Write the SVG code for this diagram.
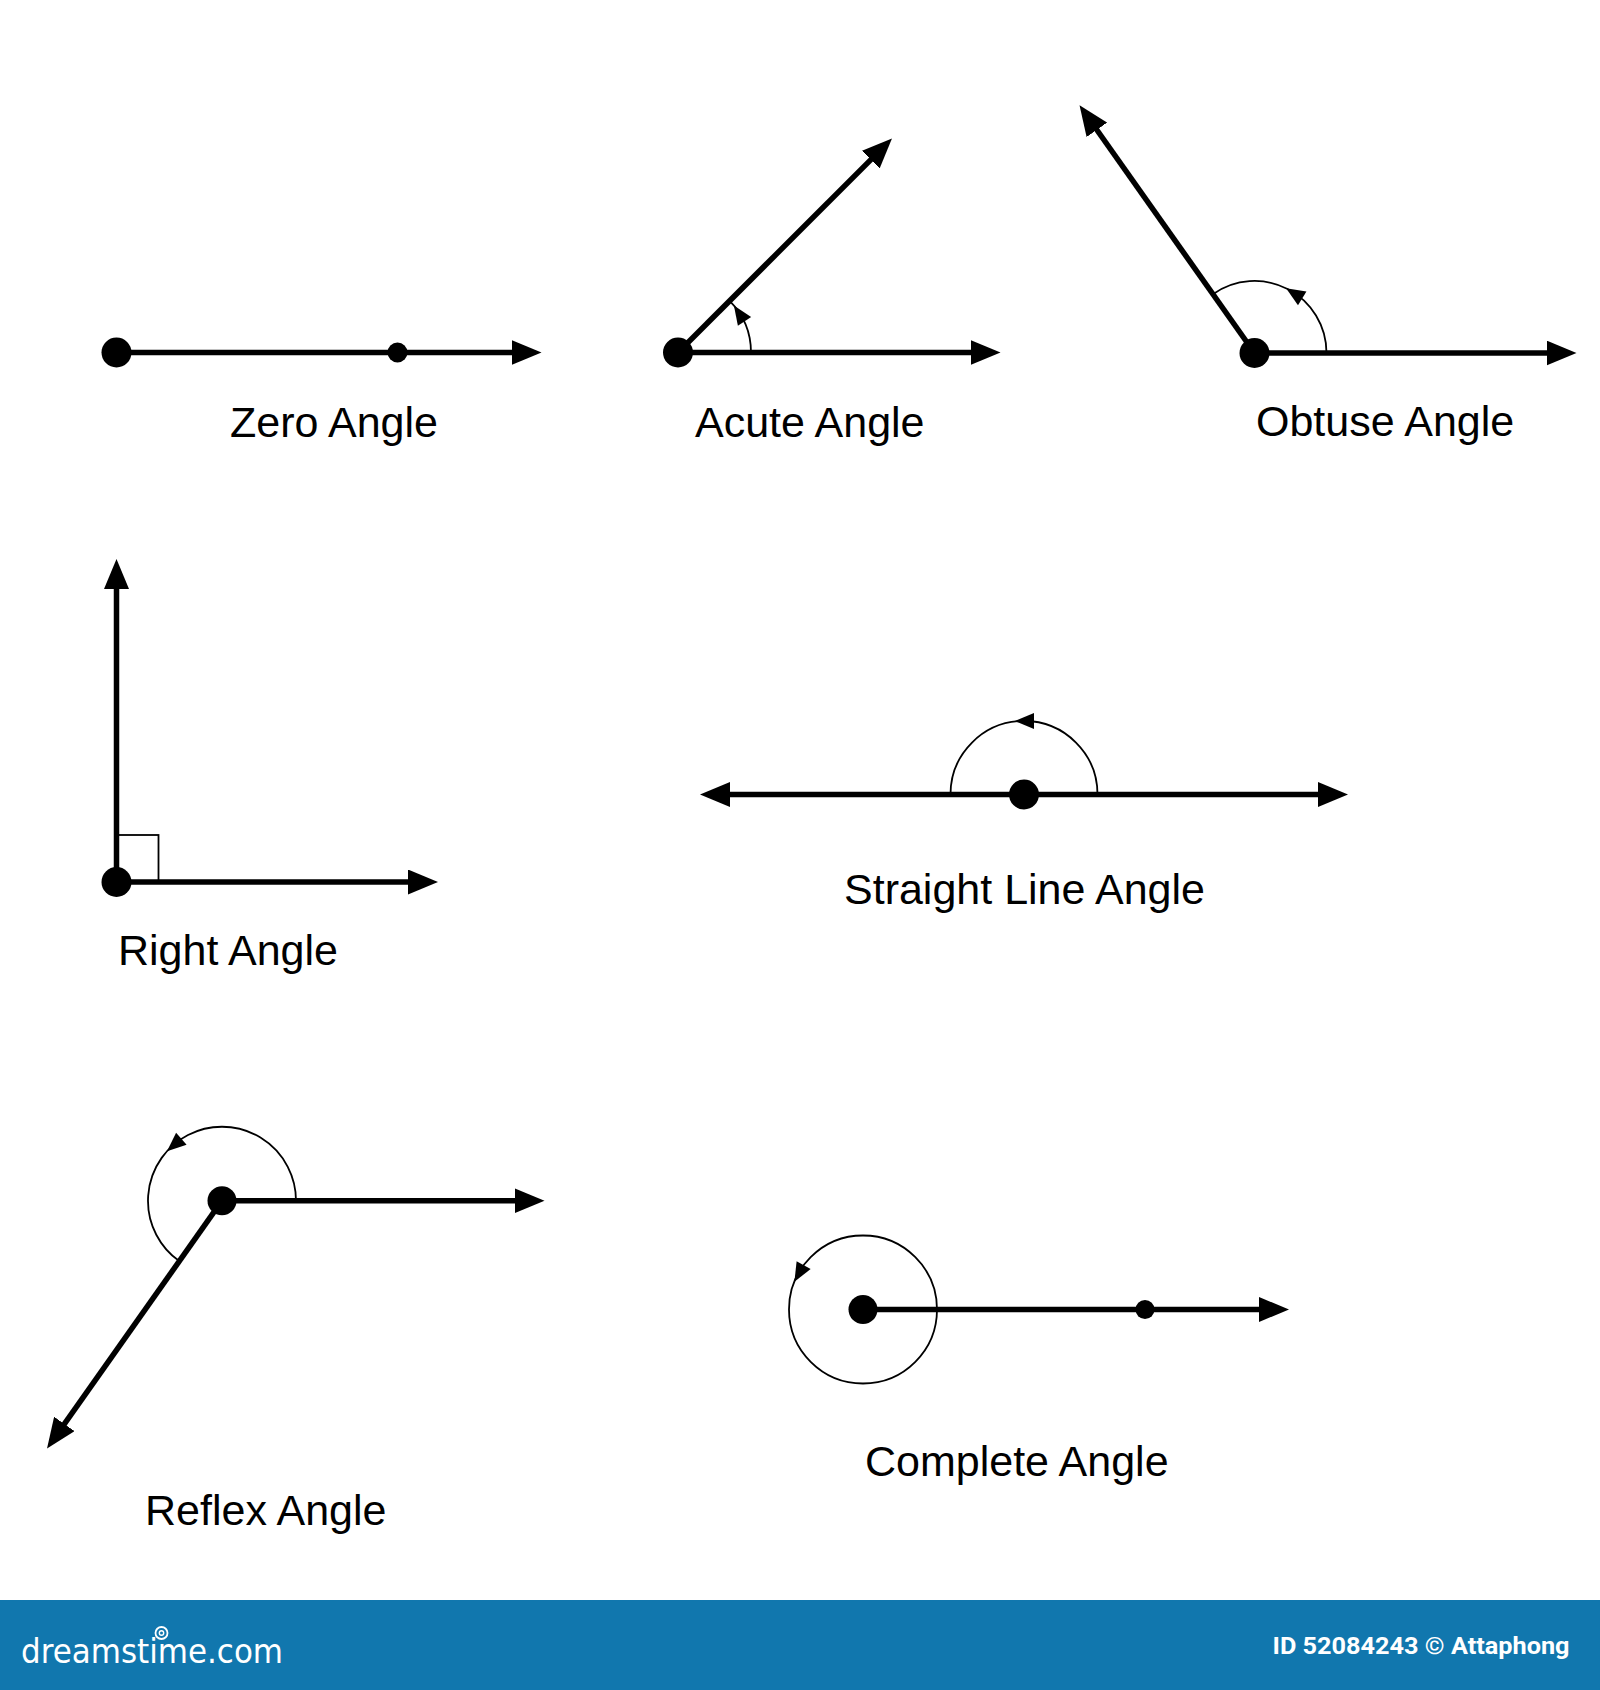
<svg xmlns="http://www.w3.org/2000/svg" width="1600" height="1690" viewBox="0 0 1600 1690">
  <style>
    .ray { stroke: #000; stroke-width: 5.5; fill: none; marker-end: url(#ah); }
    .ray2 { stroke: #000; stroke-width: 5.5; fill: none; marker-start: url(#ah); marker-end: url(#ah); }
    .arc { stroke: #000; stroke-width: 1.8; fill: none; }
    .dot { fill: #000; }
    .lbl { font-family: "Liberation Sans", Arial, sans-serif; font-size: 43px; fill: #000; }
    .foot { fill: #fff; }
  </style>
  <defs>
    <marker id="ah" viewBox="0 0 30 25" refX="20" refY="12.5" markerWidth="30" markerHeight="25" markerUnits="userSpaceOnUse" orient="auto-start-reverse">
      <path d="M0,0 L30,12.5 L0,25 Z" fill="#000"/>
    </marker>
    <path id="sa" d="M0,0 L-19,-8 L-19,8 Z" fill="#000"/>
  </defs>
  <rect width="1600" height="1690" fill="#fff"/>

  <g id="zero-angle">
    <line class="ray" x1="116.5" y1="352.5" x2="531.5" y2="352.5"/>
    <circle class="dot" cx="116.5" cy="352.5" r="15"/>
    <circle class="dot" cx="397.5" cy="352.5" r="10"/>
    <text class="lbl" x="230" y="436.5">Zero Angle</text>
  </g>

  <g id="acute-angle">
    <line class="ray" x1="678" y1="352.5" x2="990.5" y2="352.5"/>
    <line class="ray" x1="678" y1="352.5" x2="884.9" y2="145.6"/>
    <path class="arc" d="M751,352.5 A73,73 0 0 0 729.6,300.9"/>
    <use href="#sa" transform="translate(733.9,305.6) rotate(-124)"/>
    <circle class="dot" cx="678" cy="352.5" r="15"/>
    <text class="lbl" x="695" y="436.5">Acute Angle</text>
  </g>

  <g id="obtuse-angle">
    <line class="ray" x1="1254.5" y1="353" x2="1566.5" y2="353"/>
    <line class="ray" x1="1254.5" y1="353" x2="1085.3" y2="113.5"/>
    <path class="arc" d="M1326.5,353 A72,72 0 0 0 1212.9,294.2"/>
    <use href="#sa" transform="translate(1286.1,288.3) rotate(-148)"/>
    <circle class="dot" cx="1254.5" cy="353" r="15"/>
    <text class="lbl" x="1256" y="436">Obtuse Angle</text>
  </g>

  <g id="right-angle">
    <rect x="116.5" y="835" width="42" height="47" fill="none" stroke="#000" stroke-width="1.8"/>
    <line class="ray" x1="116.5" y1="882" x2="116.5" y2="569"/>
    <line class="ray" x1="116.5" y1="882" x2="428" y2="882"/>
    <circle class="dot" cx="116.5" cy="882" r="15"/>
    <text class="lbl" x="118" y="965">Right Angle</text>
  </g>

  <g id="straight-line-angle">
    <line class="ray2" x1="710" y1="794.5" x2="1338" y2="794.5"/>
    <path class="arc" d="M1097.5,794.5 A73.5,73.5 0 0 0 950.5,794.5"/>
    <use href="#sa" transform="translate(1015,721) rotate(180)"/>
    <circle class="dot" cx="1024" cy="794.5" r="15"/>
    <text class="lbl" x="1024.5" y="903.5" text-anchor="middle">Straight Line Angle</text>
  </g>

  <g id="reflex-angle">
    <line class="ray" x1="222" y1="1200.7" x2="534.5" y2="1200.7"/>
    <line class="ray" x1="222" y1="1200.7" x2="52.8" y2="1440.3"/>
    <path class="arc" d="M296,1200.7 A74,74 0 1 0 179.2,1261.1"/>
    <use href="#sa" transform="translate(167,1151.2) rotate(139)"/>
    <circle class="dot" cx="222" cy="1200.7" r="14.5"/>
    <text class="lbl" x="145" y="1525">Reflex Angle</text>
  </g>

  <g id="complete-angle">
    <circle class="arc" cx="863" cy="1309.5" r="74"/>
    <line class="ray" x1="863" y1="1309.5" x2="1279" y2="1309.5"/>
    <use href="#sa" transform="translate(794.4,1281.8) rotate(119)"/>
    <circle class="dot" cx="863" cy="1309.5" r="14.5"/>
    <circle class="dot" cx="1145" cy="1309.5" r="9.5"/>
    <text class="lbl" x="865" y="1476">Complete Angle</text>
  </g>

  <g id="footer">
    <rect x="0" y="1600" width="1600" height="90" fill="#1177ae"/>
    <text class="foot" x="21" y="1663" font-family="'DejaVu Sans', sans-serif" font-size="34" textLength="262" lengthAdjust="spacingAndGlyphs">dreamstime.com</text>
    <circle cx="161.5" cy="1633" r="6" fill="none" stroke="#fff" stroke-width="1.8"/>
    <circle cx="161.5" cy="1633" r="2.2" fill="none" stroke="#fff" stroke-width="1.4"/>
    <text class="foot" x="1272.5" y="1654" font-family="Roboto, 'Liberation Sans', sans-serif" font-weight="700" font-size="24" textLength="297" lengthAdjust="spacingAndGlyphs">ID 52084243 © Attaphong</text>
  </g>
</svg>
